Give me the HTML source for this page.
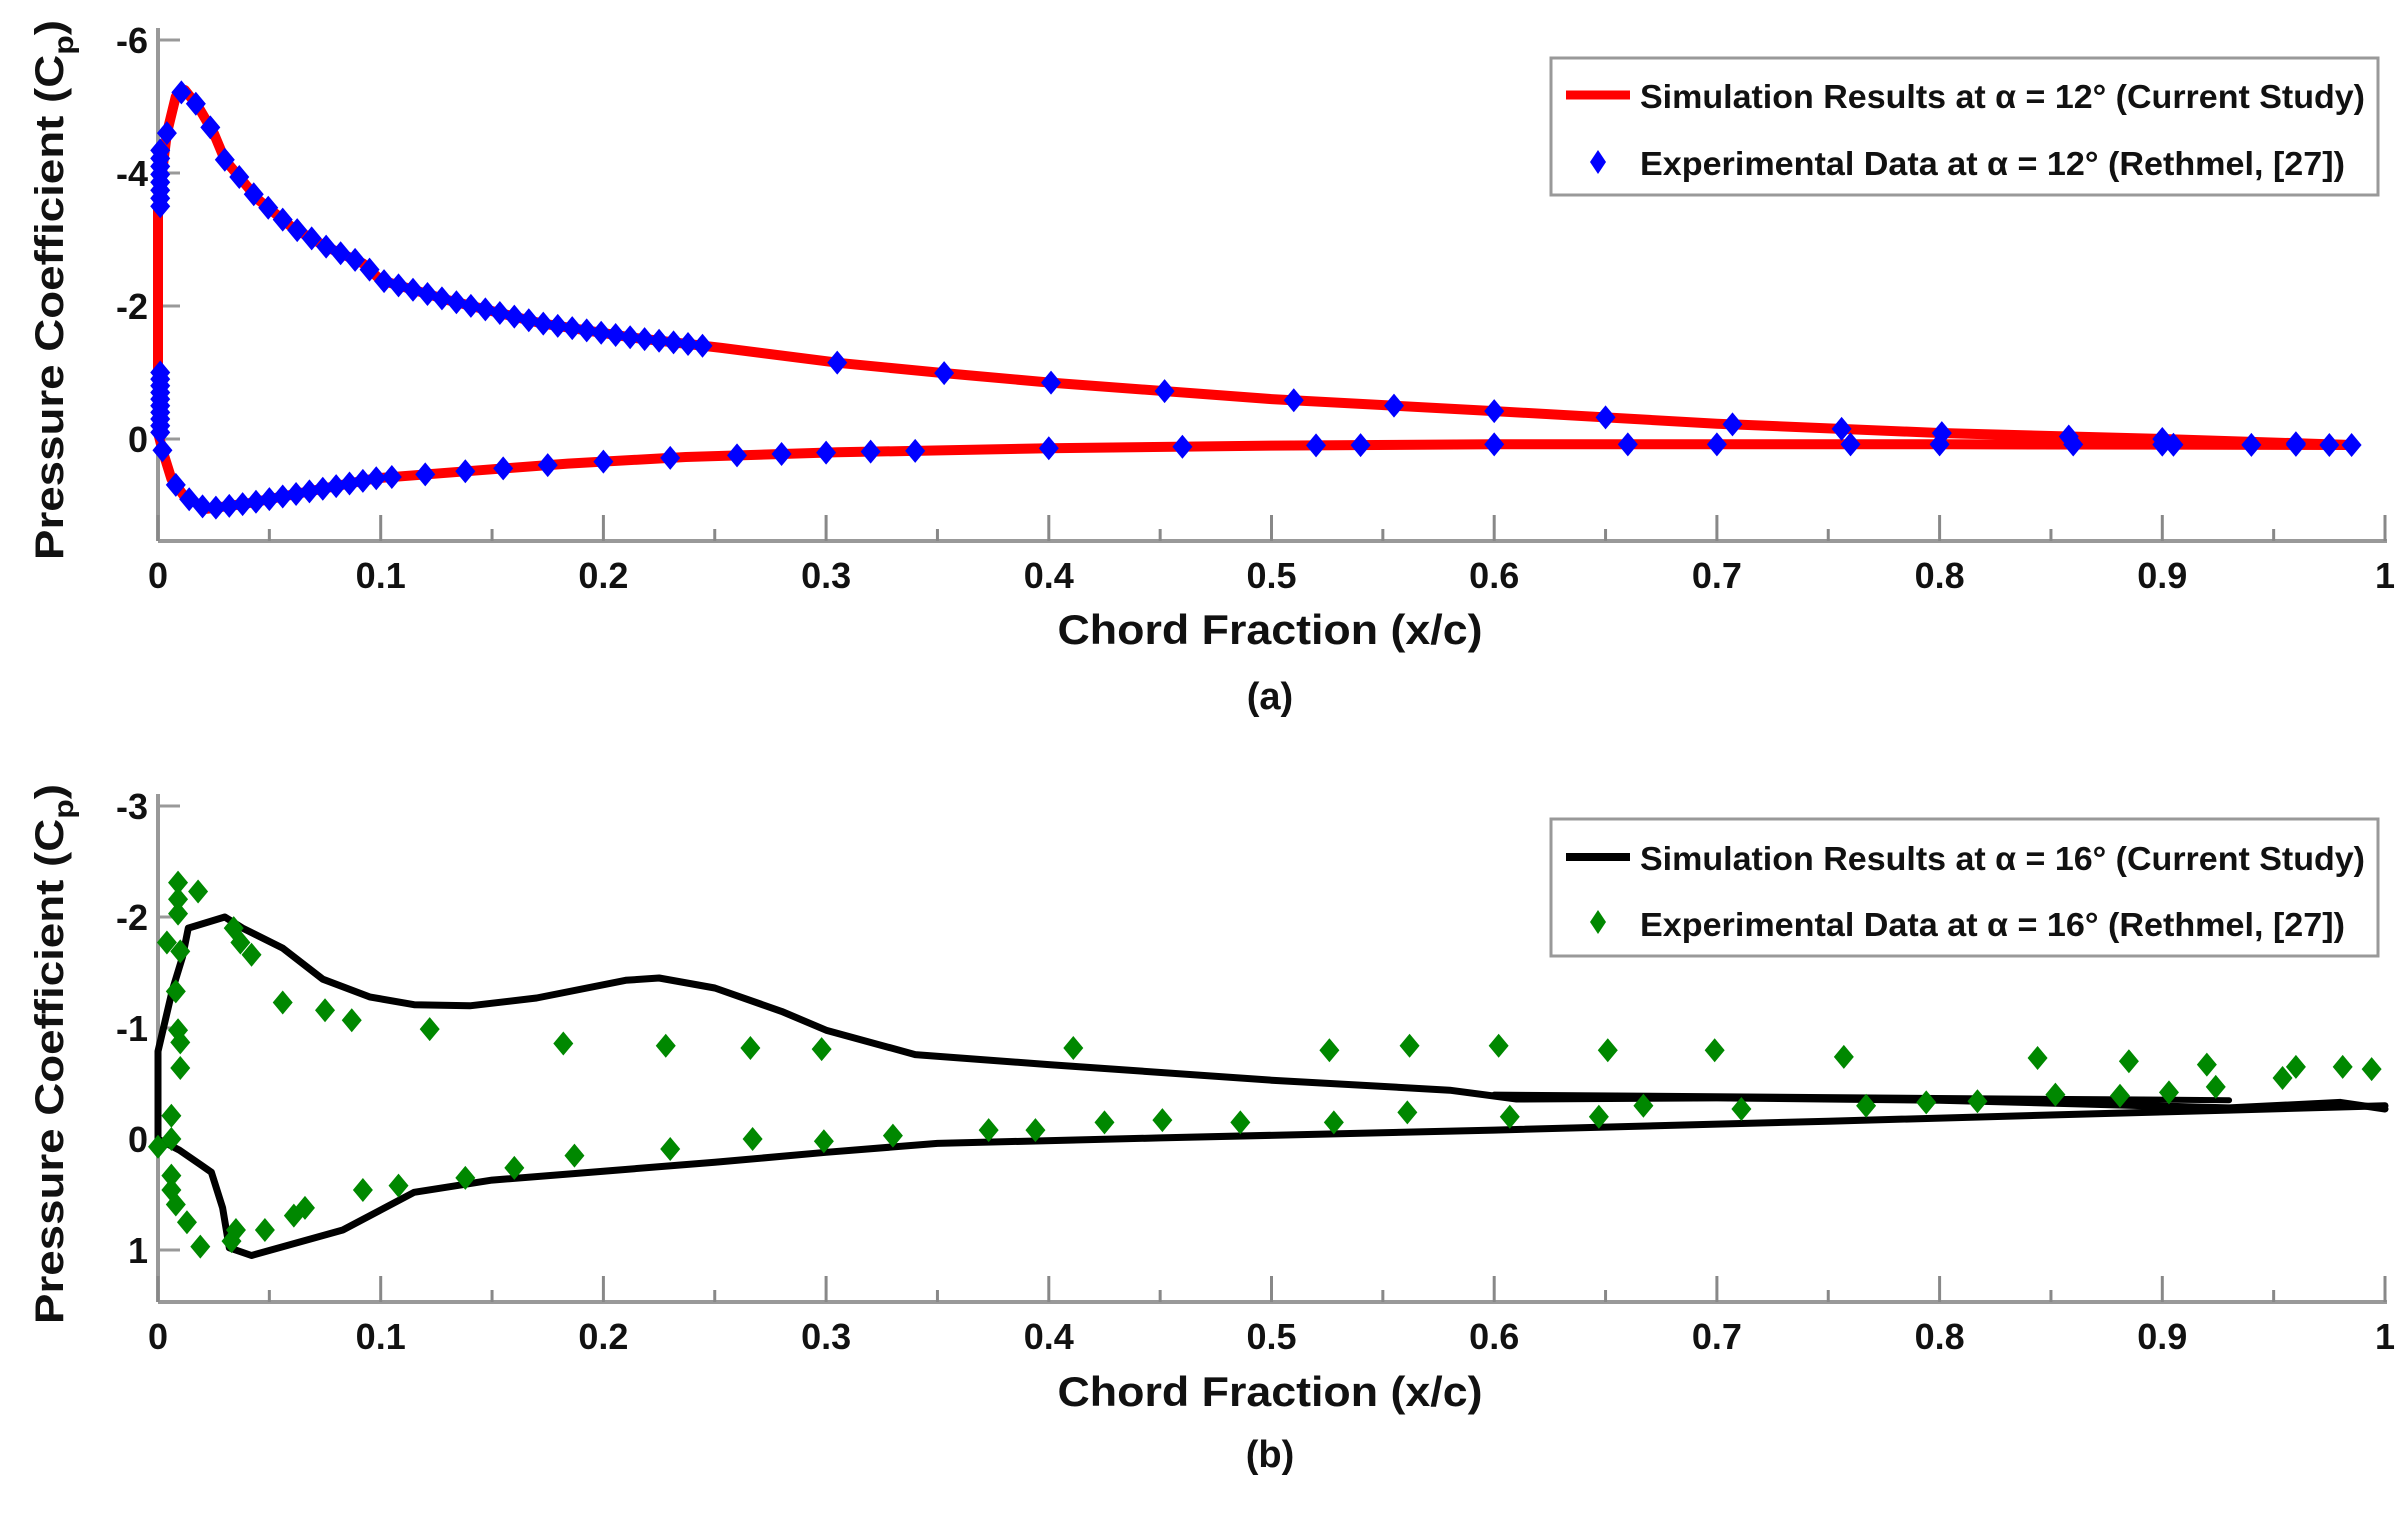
<!DOCTYPE html>
<html><head><meta charset="utf-8"><style>
html,body{margin:0;padding:0;background:#fff;}
svg{display:block;}
text{font-family:"Liberation Sans",Arial,sans-serif;font-weight:bold;fill:#111;}
</style></head><body>
<svg id="s" width="2408" height="1513" viewBox="0 0 2408 1513" xmlns="http://www.w3.org/2000/svg">
<rect width="2408" height="1513" fill="#fff"/>
<g id="g"></g>
<rect x="1551" y="58" width="827" height="137" fill="#fff" stroke="#999" stroke-width="3"/>
<line x1="1566" y1="95" x2="1630" y2="95" stroke="#f00" stroke-width="9"/>
<polygon points="1598,150 1606,162 1598,174 1590,162" fill="#00f"/>
<text x="1640" y="108" font-size="33" textLength="725" lengthAdjust="spacingAndGlyphs">Simulation Results at α = 12° (Current Study)</text>
<text x="1640" y="175" font-size="33" textLength="705" lengthAdjust="spacingAndGlyphs">Experimental Data at α = 12° (Rethmel, [27])</text>
<rect x="1551" y="819" width="827" height="137" fill="#fff" stroke="#999" stroke-width="3"/>
<line x1="1566" y1="857" x2="1630" y2="857" stroke="#000" stroke-width="8"/>
<polygon points="1598,910 1606,922 1598,934 1590,922" fill="#080"/>
<text x="1640" y="870" font-size="33" textLength="725" lengthAdjust="spacingAndGlyphs">Simulation Results at α = 16° (Current Study)</text>
<text x="1640" y="936" font-size="33" textLength="705" lengthAdjust="spacingAndGlyphs">Experimental Data at α = 16° (Rethmel, [27])</text>
<text x="1270" y="644" font-size="42" text-anchor="middle" textLength="425" lengthAdjust="spacingAndGlyphs">Chord Fraction (x/c)</text>
<text x="1270" y="709" font-size="38" text-anchor="middle">(a)</text>
<text x="1270" y="1406" font-size="42" text-anchor="middle" textLength="425" lengthAdjust="spacingAndGlyphs">Chord Fraction (x/c)</text>
<text x="1270" y="1467" font-size="38" text-anchor="middle">(b)</text>
<text transform="translate(63,290) rotate(-90)" font-size="40" text-anchor="middle" textLength="540" lengthAdjust="spacingAndGlyphs">Pressure Coefficient (C<tspan font-size="28" dy="10">p</tspan><tspan dy="-10">)</tspan></text>
<text transform="translate(63,1054) rotate(-90)" font-size="40" text-anchor="middle" textLength="540" lengthAdjust="spacingAndGlyphs">Pressure Coefficient (C<tspan font-size="28" dy="10">p</tspan><tspan dy="-10">)</tspan></text>
</svg>
<script>
var NS="http://www.w3.org/2000/svg",G=document.getElementById("g");
function el(t,a,p){var e=document.createElementNS(NS,t);for(var k in a)e.setAttribute(k,a[k]);(p||G).appendChild(e);return e;}
var X0=158,X1=2385;function X(x){return X0+(X1-X0)*x;}
function mk(y0,unit){return function(c){return y0+unit*c;};}
var YA=mk(439,66.5),YB=mk(1139,111);
function axes(Y,top,bot,ticks){
 el("line",{x1:X0,y1:top,x2:X0,y2:bot,stroke:"#999","stroke-width":4});
 el("line",{x1:X0,y1:bot,x2:X1+2,y2:bot,stroke:"#999","stroke-width":4});
 for(var i=0;i<=20;i++){var x=X(i/20),L=i%2?12:26;el("line",{x1:x,y1:bot,x2:x,y2:bot-L,stroke:"#888","stroke-width":3});}
 for(var i=0;i<=10;i++){var t=el("text",{x:X(i/10),y:bot+47,"font-size":36,"text-anchor":"middle"});t.textContent=(i==0?"0":i==10?"1":"0."+i);}
 ticks.forEach(function(v){var y=Y(v);el("line",{x1:X0,y1:y,x2:X0+22,y2:y,stroke:"#999","stroke-width":3});
  var t=el("text",{x:X0-10,y:y+13,"font-size":36,"text-anchor":"end"});t.textContent=v<0?"-"+(-v):""+v;});
}
axes(YA,28,541,[-6,-4,-2,0]);
axes(YB,794,1302,[-3,-2,-1,0,1]);
function interp(pts,x){for(var i=1;i<pts.length;i++){if(x<=pts[i][0]){var a=pts[i-1],b=pts[i];var t=(x-a[0])/(b[0]-a[0]||1);return a[1]+t*(b[1]-a[1]);}}return pts[pts.length-1][1];}
function line(pts,Y,col,w){var d=pts.map(function(p,i){return (i?"L":"M")+X(p[0]).toFixed(1)+","+Y(p[1]).toFixed(1);}).join("");el("path",{d:d,fill:"none",stroke:col,"stroke-width":w,"stroke-linejoin":"round","stroke-linecap":"round"});}
function dia(x,c,Y,col){var cx=X(x),cy=Y(c);el("polygon",{points:(cx)+","+(cy-12)+" "+(cx+10)+","+cy+" "+cx+","+(cy+12)+" "+(cx-10)+","+cy,fill:col});}
var au=[[0,-0.1],[0,-3.5],[0.004,-4.6],[0.008,-5.15],[0.012,-5.25],[0.018,-5.0],[0.025,-4.6],[0.03,-4.2],[0.045,-3.6],[0.06,-3.19],[0.075,-2.9],[0.092,-2.64],[0.1,-2.39],[0.13,-2.09],[0.172,-1.74],[0.214,-1.52],[0.253,-1.37],[0.307,-1.14],[0.35,-1.0],[0.4,-0.85],[0.5,-0.6],[0.6,-0.42],[0.7,-0.23],[0.8,-0.09],[0.9,0.0],[0.985,0.09]];
var al=[[0,-0.1],[0.002,0.17],[0.006,0.6],[0.012,0.87],[0.022,1.05],[0.04,0.97],[0.066,0.8],[0.098,0.59],[0.144,0.47],[0.184,0.37],[0.237,0.27],[0.305,0.2],[0.4,0.14],[0.5,0.1],[0.6,0.08],[0.8,0.08],[0.985,0.09]];
line(au,YA,"#f00",10);line(al,YA,"#f00",10);
for(var c=-3.5;c>=-4.45;c-=0.12)dia(0.001,c,YA,"#00f");
for(var c=-1.0;c<=-0.1;c+=0.1)dia(0.001,c,YA,"#00f");
for(var x=0.004;x<0.25;x+=0.0065)dia(x,interp(au,x),YA,"#00f");
[0.305,0.353,0.401,0.452,0.51,0.555,0.6,0.65,0.707,0.756,0.801,0.858,0.9,0.96].forEach(function(x){dia(x,interp(au,x),YA,"#00f");});
for(var x=0.002;x<0.1;x+=0.006)dia(x,interp(al,x),YA,"#00f");
[0.105,0.12,0.138,0.155,0.175,0.2,0.23,0.26,0.28,0.3,0.32,0.34,0.4,0.46,0.52,0.54,0.6,0.66,0.7,0.76,0.8,0.86,0.9,0.905,0.94,0.96,0.975,0.985].forEach(function(x){dia(x,interp(al,x),YA,"#00f");});
var bu=[[0,0],[0,-0.79],[0.0064,-1.34],[0.011,-1.64],[0.0136,-1.9],[0.03,-2.0],[0.038,-1.9],[0.056,-1.72],[0.074,-1.44],[0.095,-1.28],[0.115,-1.21],[0.14,-1.2],[0.17,-1.27],[0.21,-1.43],[0.225,-1.45],[0.25,-1.36],[0.28,-1.15],[0.3,-0.98],[0.34,-0.76],[0.4,-0.67],[0.5,-0.53],[0.58,-0.44],[0.61,-0.36],[0.7,-0.37],[0.8,-0.35],[0.93,-0.28],[0.98,-0.33],[1.0,-0.27]];
var bl=[[0,0],[0.0096,0.1],[0.019,0.23],[0.024,0.3],[0.029,0.62],[0.032,0.98],[0.042,1.05],[0.083,0.82],[0.115,0.48],[0.15,0.37],[0.2,0.29],[0.25,0.21],[0.3,0.12],[0.35,0.04],[0.45,-0.01],[0.6,-0.08],[0.75,-0.16],[0.93,-0.26],[1.0,-0.3]];
line(bu,YB,"#000",7);line(bl,YB,"#000",7);
line([[0.6,-0.4],[0.93,-0.35]],YB,"#000",6);
[[0.004,-1.77],[0.009,-2.31],[0.009,-2.16],[0.009,-2.03],[0.018,-2.23],[0.01,-1.69],[0.008,-1.33],[0.009,-0.98],[0.01,-0.87],[0.01,-0.64],[0.006,-0.21],[0,0.07],[0.006,0],[0.006,0.33],[0.006,0.46],[0.008,0.59],[0.013,0.75],[0.019,0.97],[0.033,0.92],[0.048,0.82],[0.061,0.69],[0.066,0.62],[0.035,0.82],[0.034,-1.9],[0.037,-1.77],[0.042,-1.66],[0.056,-1.23],[0.075,-1.16],[0.087,-1.07],
[0.122,-0.99],[0.182,-0.86],[0.228,-0.84],[0.266,-0.82],[0.298,-0.81],[0.411,-0.82],[0.526,-0.8],[0.562,-0.84],[0.602,-0.84],[0.651,-0.8],[0.699,-0.8],[0.757,-0.74],[0.844,-0.73],[0.885,-0.7],[0.92,-0.67],[0.924,-0.47],[0.954,-0.55],[0.96,-0.65],[0.981,-0.65],[0.994,-0.63],[0.852,-0.4],[0.881,-0.39],[0.903,-0.42],
[0.092,0.46],[0.108,0.42],[0.138,0.35],[0.16,0.26],[0.187,0.15],[0.23,0.09],[0.267,0.0],[0.299,0.02],[0.33,-0.03],[0.373,-0.08],[0.394,-0.08],[0.425,-0.15],[0.451,-0.17],[0.486,-0.15],[0.528,-0.15],[0.561,-0.24],[0.607,-0.2],[0.647,-0.2],[0.667,-0.3],[0.711,-0.27],[0.767,-0.3],[0.794,-0.33],[0.817,-0.34]
].forEach(function(p){dia(p[0],p[1],YB,"#080");});
</script>
</body></html>
